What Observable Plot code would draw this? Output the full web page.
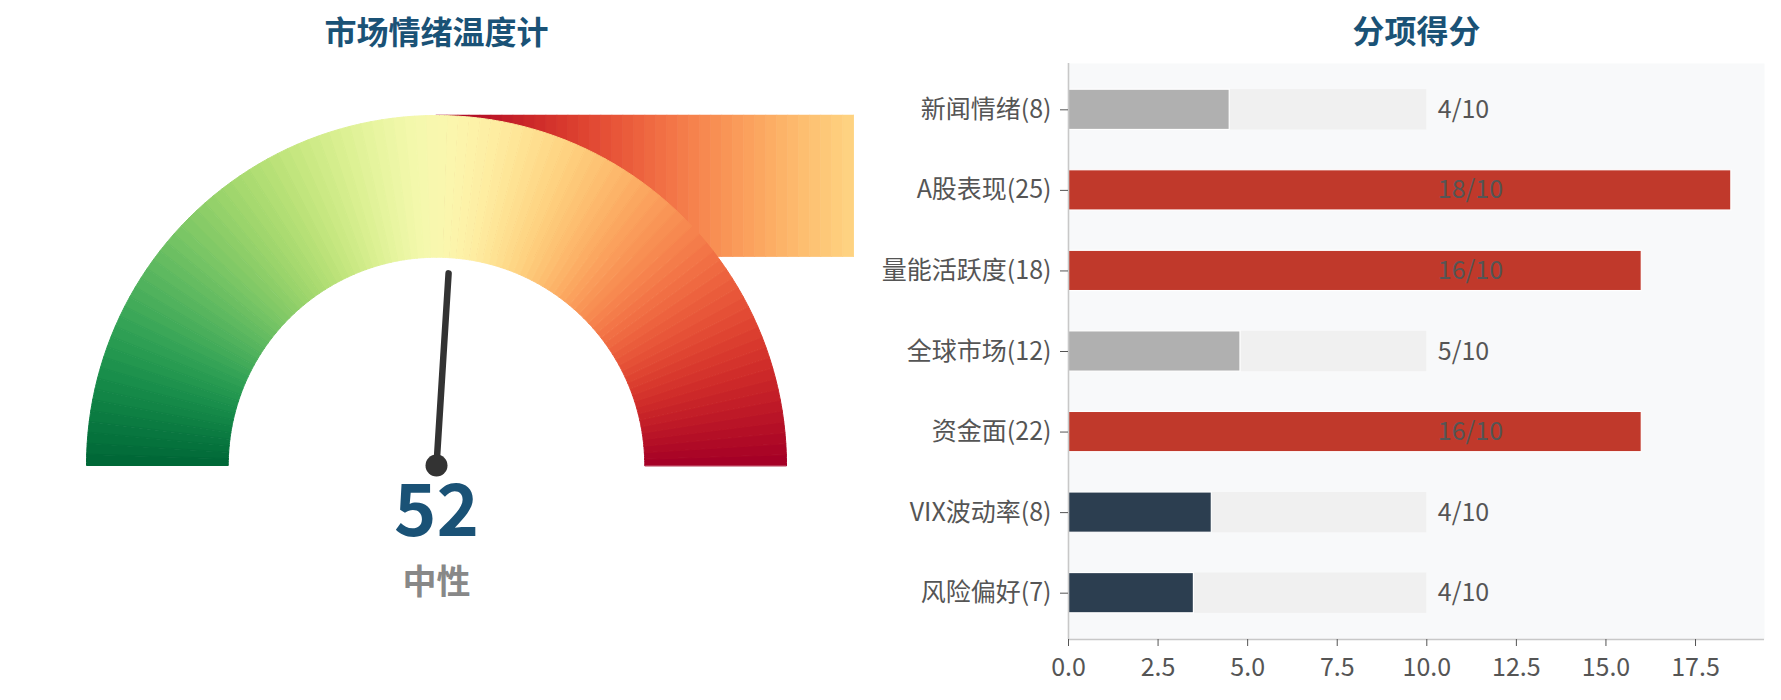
<!DOCTYPE html>
<html><head><meta charset="utf-8">
<script src="https://cdn.jsdelivr.net/npm/d3@7"></script>
<script src="https://cdn.jsdelivr.net/npm/@observablehq/plot@0.6"></script>
<style>
body{margin:0;background:#fff}
#wrap{display:flex;width:1781px;height:700px;overflow:hidden}
</style></head>
<body><div id="wrap"></div>
<script>
// ---------- data ----------
const gaugeTitle = "市场情绪温度计";
const gaugeValue = 52;
const gaugeLabel = "中性";
const gaugeRange = [0, 100];

const barTitle = "分项得分";
const categories = ["新闻情绪(8)", "A股表现(25)", "量能活跃度(18)", "全球市场(12)", "资金面(22)", "VIX波动率(8)", "风险偏好(7)"];
const scores = [4.5, 18.5, 16, 4.8, 16, 4.0, 3.5];
const scoreLabels = ["4/10", "18/10", "16/10", "5/10", "16/10", "4/10", "4/10"];
const barColors = ["#b0b0b0", "#c0392b", "#c0392b", "#b0b0b0", "#c0392b", "#2c3e50", "#2c3e50"];
const fullScore = 10;
const xTicks = [0, 2.5, 5, 7.5, 10, 12.5, 15, 17.5];

// ---------- gauge ----------
const FONT = "'Noto Sans CJK SC', 'Noto Sans', sans-serif";
const nSeg = 100, rIn = 0.595, rOut = 1.0, needleLen = 0.55;
const segW = Math.PI / nSeg;
// segment i spans [i*segW, (i+1)*segW] measured from the right (red) end
const segs = d3.range(nSeg).map(i => ({i, a0: i * segW, a1: (i + 1) * segW, c: d3.interpolateRdYlGn(i / (nSeg - 1))}));
function wedge(s) {
  const pts = [], k = 4;
  for (let j = 0; j <= k; j++) { const a = s.a0 + (s.a1 - s.a0) * j / k; pts.push({x: rOut * Math.cos(a), y: rOut * Math.sin(a)}); }
  for (let j = k; j >= 0; j--) { const a = s.a0 + (s.a1 - s.a0) * j / k; pts.push({x: rIn * Math.cos(a), y: rIn * Math.sin(a)}); }
  return pts;
}
// flattened "polar bars" drawn on cartesian axes (as in the reference)
const strips = segs.map(s => ({x1: s.a0, x2: s.a1, y1: rIn, y2: rOut, c: s.c}));

const ang = Math.PI * (1 - (gaugeValue - gaugeRange[0]) / (gaugeRange[1] - gaugeRange[0]));
const needle = [{x1: 0, y1: 0, x2: needleLen * Math.cos(ang), y2: needleLen * Math.sin(ang)}];

const PX = 350, CX = 436, CY = 465, GW = 870, GR = 854;
const gauge = Plot.plot({
  width: GW, height: 700,
  marginLeft: 0, marginTop: 0, marginBottom: 0, marginRight: GW - GR,
  x: {domain: [-CX / PX, (GR - CX) / PX], axis: null},
  y: {domain: [-(700 - CY) / PX, CY / PX], axis: null},
  color: {type: "identity"},
  style: {fontFamily: FONT, background: "transparent", overflow: "visible"},
  marks: [
    Plot.rect(strips, {x1: "x1", x2: "x2", y1: "y1", y2: "y2", fill: "c", stroke: "c", strokeWidth: 0.5, clip: true}),
    ...segs.map(s => Plot.line(wedge(s), {x: "x", y: "y", fill: s.c, stroke: s.c, strokeWidth: 1, curve: "linear-closed"})),
    Plot.link(needle, {x1: "x1", y1: "y1", x2: "x2", y2: "y2", stroke: "#333333", strokeWidth: 6.5, strokeLinecap: "round"}),
    Plot.dot([{x: 0, y: 0}], {x: "x", y: "y", r: 11, fill: "#333333"}),
    Plot.text([gaugeValue], {x: 0, y: -0.137, text: d => String(d), fontSize: 72, fontWeight: "bold", fill: "#1a5276", lineAnchor: "middle"}),
    Plot.text([gaugeLabel], {x: 0, y: -0.336, text: d => d, fontSize: 34, fontWeight: "bold", fill: "#888888", lineAnchor: "middle"}),
    Plot.text([gaugeTitle], {x: 0, y: (CY - 33) / PX, text: d => d, fontSize: 32, fontWeight: "bold", fill: "#1a5276", lineAnchor: "middle"})
  ]
});

// ---------- bars ----------
const rows = categories.map((name, i) => ({i, name, v: scores[i], lab: scoreLabels[i], c: barColors[i]}));
const yDom = [-0.575, 6.575];
const half = 0.25;
const BW = 1781 - GW;
const bars = Plot.plot({
  width: BW, height: 700,
  marginLeft: 1068 - GW, marginRight: 1781 - 1764, marginTop: 63, marginBottom: 700 - 639,
  x: {domain: [0, 19.425]},
  y: {domain: yDom, reverse: true},
  color: {type: "identity"},
  style: {fontFamily: FONT, fontSize: "25px", color: "#555555", background: "transparent", overflow: "visible"},
  marks: [
    Plot.frame({fill: "#f8f9fa", stroke: "none"}),
    Plot.rect(rows, {x1: 0, x2: () => fullScore, y1: d => d.i - half, y2: d => d.i + half, fill: "#f0f0f0"}),
    Plot.rect(rows, {x1: 0, x2: "v", y1: d => d.i - half, y2: d => d.i + half, fill: "c", stroke: "white", strokeWidth: 1.2}),
    Plot.text(rows, {x: () => fullScore, y: "i", text: "lab", dx: 11, textAnchor: "start", lineAnchor: "middle", fill: "#555555", fontSize: 25}),
    Plot.ruleX([0], {stroke: "#c8c8c8", strokeWidth: 1.6}),
    Plot.ruleY([yDom[1]], {stroke: "#c8c8c8", strokeWidth: 1.6}),
    Plot.axisY({ticks: d3.range(categories.length), tickFormat: i => categories[i], tickSize: 8, tickPadding: 9, label: null, fontSize: 25}),
    Plot.axisX({ticks: xTicks, tickFormat: d => d.toFixed(1), tickSize: 7, tickPadding: 12, label: null, fontSize: 25}),
    Plot.text([barTitle], {frameAnchor: "top", dy: -31, text: d => d, fontSize: 32, fontWeight: "bold", fill: "#1a5276", lineAnchor: "middle"})
  ]
});

const wrap = document.getElementById("wrap");
wrap.appendChild(gauge);
wrap.appendChild(bars);
</script></body></html>
